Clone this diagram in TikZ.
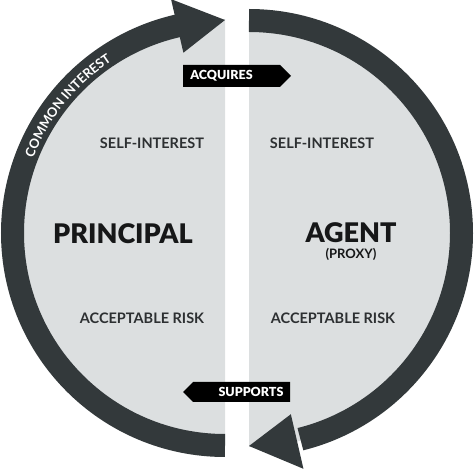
\documentclass[tikz,border=0pt]{standalone}
\usepackage{fontspec}
\setmainfont{Lato}
\newfontfamily\heavyfont{Lato Black}
\usetikzlibrary{positioning,decorations.text}
\definecolor{ring}{HTML}{33393B}
\definecolor{halffill}{HTML}{DCDFE0}
\definecolor{ink}{HTML}{161718}
\definecolor{softink}{HTML}{2D3032}
\tikzset{
ringband/.style={draw=ring, line width=23pt},
tip/.style={fill=ring},
half/.style={fill=halffill},
tag/.style={fill=black},
tagtext/.style={text=white, font=\heavyfont\fontsize{12.5}{13}\selectfont, inner sep=0pt},
role/.style={text=ink, font=\heavyfont\fontsize{27}{28}\selectfont, inner sep=0pt},
trait/.style={text=softink, font=\bfseries\fontsize{14.5}{15}\selectfont, inner sep=0pt},
proxy/.style={text=ink, font=\bfseries\fontsize{13}{14}\selectfont, inner sep=0pt},
}

\begin{document}
\begin{tikzpicture}[x=1pt,y=1pt]
    \useasboundingbox (0,0) rectangle (474,474);
    \coordinate (cl) at (225,241);
    \coordinate (cr) at (249,241);

    % the two halves
    \fill[half] ([shift={(90:214)}]cl) arc[start angle=90, end angle=270, radius=214] -- cycle;
    \fill[half] ([shift={(90:214)}]cr) arc[start angle=90, end angle=-90, radius=214] -- cycle;

    % rings and heads
    \draw[ringband] ([shift={(270:212.5)}]cl) arc[start angle=270, end angle=102, radius=212.5];
    \fill[tip] ([shift={(103:185)}]cl) -- ([shift={(103:240)}]cl) -- ([shift={(90:213)}]cl) -- cycle;
    \draw[ringband] ([shift={(90:212.5)}]cr) arc[start angle=90, end angle=-76, radius=212.5];
    \fill[tip] ([shift={(-77:186)}]cr) -- ([shift={(-77:242)}]cr) -- ([shift={(-90:213)}]cr) -- cycle;

    \coordinate (ci) at ([shift={(175:206)}]cl);
    \path[decorate, decoration={text along path, text align=center, text color=white,
        text={|\bfseries\fontsize{13}{13}\selectfont|COMMON INTEREST}}]
        (ci) arc[start angle=175, end angle=107, radius=206];

    \node[trait] (selfp) at (152,331) {SELF-INTEREST};
    \node[trait] (selfa) at (322,331) {SELF-INTEREST};
    \node[role] (principal) at (123,240) {PRINCIPAL};
    \node[role] (agent) at (351,241) {AGENT};
    \node[proxy, below=5pt of agent] (prox) {(PROXY)};
    \node[trait] (riskp) at (142,156) {ACCEPTABLE RISK};
    \node[trait] (riska) at (333,156) {ACCEPTABLE RISK};

    % tags
    \fill[tag] (183,387) -- (280,387) -- (291,398) -- (280,409) -- (183,409) -- cycle;
    \node[tagtext] (acquires) at (221.5,398) {ACQUIRES};
    \fill[tag] (193,72) -- (290,72) -- (290,92) -- (193,92) -- (183,82) -- cycle;
    \node[tagtext] (supports) at (251,82) {SUPPORTS};

\end{tikzpicture}
\end{document}
